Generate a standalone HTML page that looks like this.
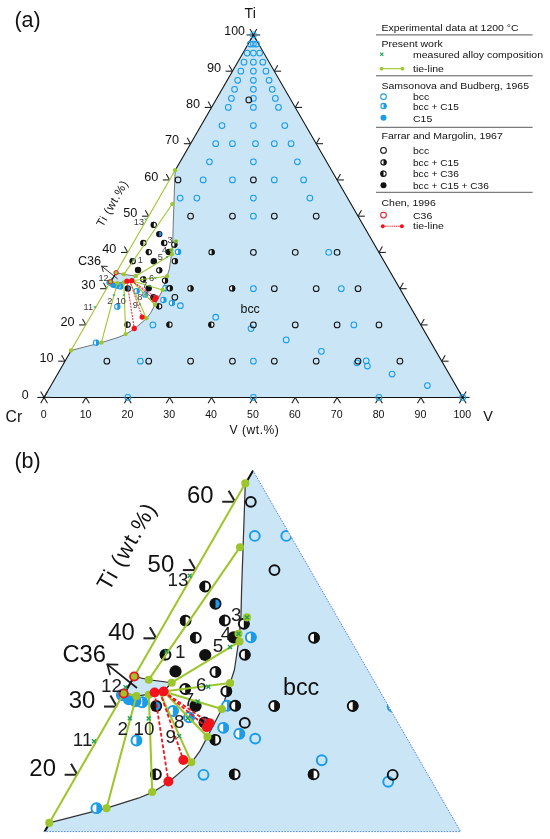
<!DOCTYPE html><html><head><meta charset="utf-8"><title>Ti-Cr-V 1200C</title><style>html,body{margin:0;padding:0;background:#fff}svg{display:block}text{font-family:"Liberation Sans",Arial,sans-serif}</style></head><body>
<svg width="550" height="839" viewBox="0 0 550 839">
<rect width="550" height="839" fill="#fff"/>
<clipPath id="cb"><polygon points="0,440 200,440 252.8,470.2 460.6,831.6 0,831.6"/></clipPath>
<g><polygon points="253.38,34.94 175.1,170.15 173.13,226.78 172.76,242.18 171.59,253.86 169.31,269.27 167.03,276.17 162.62,289.98 154.97,304.75 151.04,312.24 146.52,318.51 141.37,322.86 134.15,329.02 125.76,334.28 118.21,337.36 101.38,342.67 70.99,350.48 44.07,397.44 462.7,397.44" fill="#c9e5f6"/>
<polygon points="116.09,272.72 123.84,274.42 136.01,276.01 131.7,280.69 126.82,281.22 123.84,282.23 117.26,283.08 110.51,281.75" fill="#c9e5f6" stroke="#222" stroke-width="0.6" stroke-linejoin="round"/>
<path d="M175.1 170.15 L173.13 226.78 L172.76 242.18 L171.59 253.86 L169.31 269.27 L167.03 276.17 L162.62 289.98 L154.97 304.75 L151.04 312.24 L146.52 318.51 L141.37 322.86 L134.15 329.02 L125.76 334.28 L118.21 337.36 L101.38 342.67 L70.99 350.48" fill="none" stroke="#333" stroke-width="0.65" stroke-linejoin="round"/>
<polyline points="44.07,397.44 462.7,397.44 253.38,34.94" fill="none" stroke="#111" stroke-width="1.1"/>
<line x1="253.38" y1="34.94" x2="175.1" y2="170.51" stroke="#111" stroke-width="1.1" />
<line x1="115.66" y1="273.46" x2="110.34" y2="282.67" stroke="#111" stroke-width="1.1" />
<line x1="70.86" y1="351.04" x2="44.07" y2="397.44" stroke="#111" stroke-width="1.1" />
<line x1="249.98" y1="40.83" x2="256.78" y2="29.05" stroke="#222" stroke-width="1.1" />
<line x1="256.78" y1="40.83" x2="249.98" y2="29.05" stroke="#222" stroke-width="1.1" />
<line x1="246.58" y1="34.94" x2="260.19" y2="34.94" stroke="#222" stroke-width="1.1" />
<circle cx="253.38" cy="34.94" r="1" fill="#111"/>
<line x1="40.67" y1="403.33" x2="47.47" y2="391.55" stroke="#222" stroke-width="1.1" />
<line x1="47.47" y1="403.33" x2="40.67" y2="391.55" stroke="#222" stroke-width="1.1" />
<line x1="37.27" y1="397.44" x2="50.87" y2="397.44" stroke="#222" stroke-width="1.1" />
<circle cx="44.07" cy="397.44" r="1" fill="#111"/>
<line x1="459.3" y1="403.33" x2="466.1" y2="391.55" stroke="#222" stroke-width="1.1" />
<line x1="466.1" y1="403.33" x2="459.3" y2="391.55" stroke="#222" stroke-width="1.1" />
<line x1="455.9" y1="397.44" x2="469.5" y2="397.44" stroke="#222" stroke-width="1.1" />
<circle cx="462.7" cy="397.44" r="1" fill="#111"/>
<line x1="82.53" y1="403.33" x2="85.93" y2="397.44" stroke="#222" stroke-width="1.1" />
<line x1="89.33" y1="403.33" x2="85.93" y2="397.44" stroke="#222" stroke-width="1.1" />
<line x1="58.2" y1="361.19" x2="65" y2="361.19" stroke="#222" stroke-width="1.1" />
<line x1="65" y1="361.19" x2="61.6" y2="355.3" stroke="#222" stroke-width="1.1" />
<line x1="441.77" y1="361.19" x2="448.57" y2="361.19" stroke="#222" stroke-width="1.1" />
<line x1="441.77" y1="361.19" x2="445.17" y2="355.3" stroke="#222" stroke-width="1.1" />
<line x1="124.4" y1="403.33" x2="127.8" y2="397.44" stroke="#222" stroke-width="1.1" />
<line x1="131.2" y1="403.33" x2="127.8" y2="397.44" stroke="#222" stroke-width="1.1" />
<line x1="79.13" y1="324.94" x2="85.93" y2="324.94" stroke="#222" stroke-width="1.1" />
<line x1="85.93" y1="324.94" x2="82.53" y2="319.05" stroke="#222" stroke-width="1.1" />
<line x1="420.84" y1="324.94" x2="427.64" y2="324.94" stroke="#222" stroke-width="1.1" />
<line x1="420.84" y1="324.94" x2="424.24" y2="319.05" stroke="#222" stroke-width="1.1" />
<line x1="166.26" y1="403.33" x2="169.66" y2="397.44" stroke="#222" stroke-width="1.1" />
<line x1="173.06" y1="403.33" x2="169.66" y2="397.44" stroke="#222" stroke-width="1.1" />
<line x1="100.06" y1="288.69" x2="106.86" y2="288.69" stroke="#222" stroke-width="1.1" />
<line x1="106.86" y1="288.69" x2="103.46" y2="282.8" stroke="#222" stroke-width="1.1" />
<line x1="399.91" y1="288.69" x2="406.71" y2="288.69" stroke="#222" stroke-width="1.1" />
<line x1="399.91" y1="288.69" x2="403.31" y2="282.8" stroke="#222" stroke-width="1.1" />
<line x1="208.12" y1="403.33" x2="211.52" y2="397.44" stroke="#222" stroke-width="1.1" />
<line x1="214.92" y1="403.33" x2="211.52" y2="397.44" stroke="#222" stroke-width="1.1" />
<line x1="121" y1="252.44" x2="127.8" y2="252.44" stroke="#222" stroke-width="1.1" />
<line x1="127.8" y1="252.44" x2="124.4" y2="246.55" stroke="#222" stroke-width="1.1" />
<line x1="378.97" y1="252.44" x2="385.77" y2="252.44" stroke="#222" stroke-width="1.1" />
<line x1="378.97" y1="252.44" x2="382.37" y2="246.55" stroke="#222" stroke-width="1.1" />
<line x1="249.98" y1="403.33" x2="253.38" y2="397.44" stroke="#222" stroke-width="1.1" />
<line x1="256.78" y1="403.33" x2="253.38" y2="397.44" stroke="#222" stroke-width="1.1" />
<line x1="141.93" y1="216.19" x2="148.73" y2="216.19" stroke="#222" stroke-width="1.1" />
<line x1="148.73" y1="216.19" x2="145.33" y2="210.3" stroke="#222" stroke-width="1.1" />
<line x1="358.04" y1="216.19" x2="364.84" y2="216.19" stroke="#222" stroke-width="1.1" />
<line x1="358.04" y1="216.19" x2="361.44" y2="210.3" stroke="#222" stroke-width="1.1" />
<line x1="291.85" y1="403.33" x2="295.25" y2="397.44" stroke="#222" stroke-width="1.1" />
<line x1="298.65" y1="403.33" x2="295.25" y2="397.44" stroke="#222" stroke-width="1.1" />
<line x1="162.86" y1="179.94" x2="169.66" y2="179.94" stroke="#222" stroke-width="1.1" />
<line x1="169.66" y1="179.94" x2="166.26" y2="174.05" stroke="#222" stroke-width="1.1" />
<line x1="337.11" y1="179.94" x2="343.91" y2="179.94" stroke="#222" stroke-width="1.1" />
<line x1="337.11" y1="179.94" x2="340.51" y2="174.05" stroke="#222" stroke-width="1.1" />
<line x1="333.71" y1="403.33" x2="337.11" y2="397.44" stroke="#222" stroke-width="1.1" />
<line x1="340.51" y1="403.33" x2="337.11" y2="397.44" stroke="#222" stroke-width="1.1" />
<line x1="183.79" y1="143.69" x2="190.59" y2="143.69" stroke="#222" stroke-width="1.1" />
<line x1="190.59" y1="143.69" x2="187.19" y2="137.8" stroke="#222" stroke-width="1.1" />
<line x1="316.18" y1="143.69" x2="322.98" y2="143.69" stroke="#222" stroke-width="1.1" />
<line x1="316.18" y1="143.69" x2="319.58" y2="137.8" stroke="#222" stroke-width="1.1" />
<line x1="375.57" y1="403.33" x2="378.97" y2="397.44" stroke="#222" stroke-width="1.1" />
<line x1="382.37" y1="403.33" x2="378.97" y2="397.44" stroke="#222" stroke-width="1.1" />
<line x1="204.72" y1="107.44" x2="211.52" y2="107.44" stroke="#222" stroke-width="1.1" />
<line x1="211.52" y1="107.44" x2="208.12" y2="101.55" stroke="#222" stroke-width="1.1" />
<line x1="295.25" y1="107.44" x2="302.05" y2="107.44" stroke="#222" stroke-width="1.1" />
<line x1="295.25" y1="107.44" x2="298.65" y2="101.55" stroke="#222" stroke-width="1.1" />
<line x1="417.44" y1="403.33" x2="420.84" y2="397.44" stroke="#222" stroke-width="1.1" />
<line x1="424.24" y1="403.33" x2="420.84" y2="397.44" stroke="#222" stroke-width="1.1" />
<line x1="225.65" y1="71.19" x2="232.45" y2="71.19" stroke="#222" stroke-width="1.1" />
<line x1="232.45" y1="71.19" x2="229.05" y2="65.3" stroke="#222" stroke-width="1.1" />
<line x1="274.32" y1="71.19" x2="281.12" y2="71.19" stroke="#222" stroke-width="1.1" />
<line x1="274.32" y1="71.19" x2="277.72" y2="65.3" stroke="#222" stroke-width="1.1" />
<circle cx="253.38" cy="34.94" r="2.85" fill="none" stroke="#1b9be8" stroke-width="1.05"/>
<circle cx="250.25" cy="44" r="2.85" fill="none" stroke="#1b9be8" stroke-width="1.05"/>
<circle cx="253.38" cy="44" r="2.85" fill="none" stroke="#1b9be8" stroke-width="1.05"/>
<circle cx="256.52" cy="44" r="2.85" fill="none" stroke="#1b9be8" stroke-width="1.05"/>
<circle cx="247.11" cy="53.06" r="2.85" fill="none" stroke="#1b9be8" stroke-width="1.05"/>
<circle cx="253.38" cy="53.06" r="2.85" fill="none" stroke="#1b9be8" stroke-width="1.05"/>
<circle cx="259.66" cy="53.06" r="2.85" fill="none" stroke="#1b9be8" stroke-width="1.05"/>
<circle cx="243.97" cy="62.13" r="2.85" fill="none" stroke="#1b9be8" stroke-width="1.05"/>
<circle cx="253.38" cy="62.13" r="2.85" fill="none" stroke="#1b9be8" stroke-width="1.05"/>
<circle cx="262.8" cy="62.13" r="2.85" fill="none" stroke="#1b9be8" stroke-width="1.05"/>
<circle cx="240.83" cy="71.19" r="2.85" fill="none" stroke="#1b9be8" stroke-width="1.05"/>
<circle cx="253.38" cy="71.19" r="2.85" fill="none" stroke="#1b9be8" stroke-width="1.05"/>
<circle cx="265.94" cy="71.19" r="2.85" fill="none" stroke="#1b9be8" stroke-width="1.05"/>
<circle cx="237.69" cy="80.25" r="2.85" fill="none" stroke="#1b9be8" stroke-width="1.05"/>
<circle cx="253.38" cy="80.25" r="2.85" fill="none" stroke="#1b9be8" stroke-width="1.05"/>
<circle cx="269.08" cy="80.25" r="2.85" fill="none" stroke="#1b9be8" stroke-width="1.05"/>
<circle cx="234.55" cy="89.31" r="2.85" fill="none" stroke="#1b9be8" stroke-width="1.05"/>
<circle cx="253.38" cy="89.31" r="2.85" fill="none" stroke="#1b9be8" stroke-width="1.05"/>
<circle cx="272.22" cy="89.31" r="2.85" fill="none" stroke="#1b9be8" stroke-width="1.05"/>
<circle cx="231.41" cy="98.38" r="2.85" fill="none" stroke="#1b9be8" stroke-width="1.05"/>
<circle cx="253.38" cy="98.38" r="2.85" fill="none" stroke="#1b9be8" stroke-width="1.05"/>
<circle cx="275.36" cy="98.38" r="2.85" fill="none" stroke="#1b9be8" stroke-width="1.05"/>
<circle cx="228.27" cy="107.44" r="2.85" fill="none" stroke="#1b9be8" stroke-width="1.05"/>
<circle cx="253.38" cy="107.44" r="2.85" fill="none" stroke="#1b9be8" stroke-width="1.05"/>
<circle cx="278.5" cy="107.44" r="2.85" fill="none" stroke="#1b9be8" stroke-width="1.05"/>
<circle cx="221.99" cy="125.56" r="2.85" fill="none" stroke="#1b9be8" stroke-width="1.05"/>
<circle cx="253.38" cy="125.56" r="2.85" fill="none" stroke="#1b9be8" stroke-width="1.05"/>
<circle cx="284.78" cy="125.56" r="2.85" fill="none" stroke="#1b9be8" stroke-width="1.05"/>
<circle cx="215.71" cy="143.69" r="2.85" fill="none" stroke="#1b9be8" stroke-width="1.05"/>
<circle cx="232.45" cy="143.69" r="2.85" fill="none" stroke="#1b9be8" stroke-width="1.05"/>
<circle cx="255.48" cy="143.69" r="2.85" fill="none" stroke="#1b9be8" stroke-width="1.05"/>
<circle cx="274.32" cy="143.69" r="2.85" fill="none" stroke="#1b9be8" stroke-width="1.05"/>
<circle cx="291.06" cy="143.69" r="2.85" fill="none" stroke="#1b9be8" stroke-width="1.05"/>
<circle cx="209.43" cy="161.81" r="2.85" fill="none" stroke="#1b9be8" stroke-width="1.05"/>
<circle cx="253.38" cy="161.81" r="2.85" fill="none" stroke="#1b9be8" stroke-width="1.05"/>
<circle cx="297.34" cy="161.81" r="2.85" fill="none" stroke="#1b9be8" stroke-width="1.05"/>
<circle cx="203.15" cy="179.94" r="2.85" fill="none" stroke="#1b9be8" stroke-width="1.05"/>
<circle cx="232.45" cy="179.94" r="2.85" fill="none" stroke="#1b9be8" stroke-width="1.05"/>
<circle cx="274.32" cy="179.94" r="2.85" fill="none" stroke="#1b9be8" stroke-width="1.05"/>
<circle cx="303.62" cy="179.94" r="2.85" fill="none" stroke="#1b9be8" stroke-width="1.05"/>
<circle cx="180.12" cy="198.06" r="2.85" fill="none" stroke="#1b9be8" stroke-width="1.05"/>
<circle cx="196.87" cy="198.06" r="2.85" fill="none" stroke="#1b9be8" stroke-width="1.05"/>
<circle cx="253.38" cy="198.06" r="2.85" fill="none" stroke="#1b9be8" stroke-width="1.05"/>
<circle cx="309.9" cy="198.06" r="2.85" fill="none" stroke="#1b9be8" stroke-width="1.05"/>
<circle cx="253.38" cy="216.19" r="2.85" fill="none" stroke="#1b9be8" stroke-width="1.05"/>
<circle cx="328.74" cy="252.44" r="2.85" fill="none" stroke="#1b9be8" stroke-width="1.05"/>
<circle cx="253.38" cy="288.69" r="2.85" fill="none" stroke="#1b9be8" stroke-width="1.05"/>
<circle cx="341.3" cy="288.69" r="2.85" fill="none" stroke="#1b9be8" stroke-width="1.05"/>
<circle cx="353.86" cy="324.94" r="2.85" fill="none" stroke="#1b9be8" stroke-width="1.05"/>
<circle cx="140.35" cy="361.19" r="2.85" fill="none" stroke="#1b9be8" stroke-width="1.05"/>
<circle cx="253.38" cy="361.19" r="2.85" fill="none" stroke="#1b9be8" stroke-width="1.05"/>
<circle cx="127.8" cy="397.44" r="2.85" fill="none" stroke="#1b9be8" stroke-width="1.05"/>
<circle cx="253.38" cy="397.44" r="2.85" fill="none" stroke="#1b9be8" stroke-width="1.05"/>
<circle cx="378.97" cy="397.44" r="2.85" fill="none" stroke="#1b9be8" stroke-width="1.05"/>
<circle cx="462.7" cy="397.44" r="2.85" fill="none" stroke="#1b9be8" stroke-width="1.05"/>
<circle cx="152.91" cy="324.94" r="2.85" fill="none" stroke="#1b9be8" stroke-width="1.05"/>
<circle cx="215.7" cy="317.2" r="2.85" fill="none" stroke="#1b9be8" stroke-width="1.05"/>
<circle cx="251" cy="328.6" r="2.85" fill="none" stroke="#1b9be8" stroke-width="1.05"/>
<circle cx="286.2" cy="339.9" r="2.85" fill="none" stroke="#1b9be8" stroke-width="1.05"/>
<circle cx="321.4" cy="351.3" r="2.85" fill="none" stroke="#1b9be8" stroke-width="1.05"/>
<circle cx="356.9" cy="362.8" r="2.85" fill="none" stroke="#1b9be8" stroke-width="1.05"/>
<circle cx="366.2" cy="360.8" r="2.85" fill="none" stroke="#1b9be8" stroke-width="1.05"/>
<circle cx="367.4" cy="366" r="2.85" fill="none" stroke="#1b9be8" stroke-width="1.05"/>
<circle cx="392.1" cy="374" r="2.85" fill="none" stroke="#1b9be8" stroke-width="1.05"/>
<circle cx="427.4" cy="385.5" r="2.85" fill="none" stroke="#1b9be8" stroke-width="1.05"/>
<circle cx="180.36" cy="305.7" r="2.85" fill="none" stroke="#1b9be8" stroke-width="1.05"/>
<circle cx="178.03" cy="179.94" r="2.85" fill="none" stroke="#111" stroke-width="1.05"/>
<circle cx="253.38" cy="179.94" r="2.85" fill="none" stroke="#111" stroke-width="1.05"/>
<circle cx="190.59" cy="216.19" r="2.85" fill="none" stroke="#111" stroke-width="1.05"/>
<circle cx="232.45" cy="216.19" r="2.85" fill="none" stroke="#111" stroke-width="1.05"/>
<circle cx="274.32" cy="216.19" r="2.85" fill="none" stroke="#111" stroke-width="1.05"/>
<circle cx="316.18" cy="216.19" r="2.85" fill="none" stroke="#111" stroke-width="1.05"/>
<circle cx="253.38" cy="252.44" r="2.85" fill="none" stroke="#111" stroke-width="1.05"/>
<circle cx="295.25" cy="252.44" r="2.85" fill="none" stroke="#111" stroke-width="1.05"/>
<circle cx="337.11" cy="252.44" r="2.85" fill="none" stroke="#111" stroke-width="1.05"/>
<circle cx="274.32" cy="288.69" r="2.85" fill="none" stroke="#111" stroke-width="1.05"/>
<circle cx="316.18" cy="288.69" r="2.85" fill="none" stroke="#111" stroke-width="1.05"/>
<circle cx="358.04" cy="288.69" r="2.85" fill="none" stroke="#111" stroke-width="1.05"/>
<circle cx="253.38" cy="324.94" r="2.85" fill="none" stroke="#111" stroke-width="1.05"/>
<circle cx="295.25" cy="324.94" r="2.85" fill="none" stroke="#111" stroke-width="1.05"/>
<circle cx="337.11" cy="324.94" r="2.85" fill="none" stroke="#111" stroke-width="1.05"/>
<circle cx="378.97" cy="324.94" r="2.85" fill="none" stroke="#111" stroke-width="1.05"/>
<circle cx="106.86" cy="361.19" r="2.85" fill="none" stroke="#111" stroke-width="1.05"/>
<circle cx="148.73" cy="361.19" r="2.85" fill="none" stroke="#111" stroke-width="1.05"/>
<circle cx="190.59" cy="361.19" r="2.85" fill="none" stroke="#111" stroke-width="1.05"/>
<circle cx="232.45" cy="361.19" r="2.85" fill="none" stroke="#111" stroke-width="1.05"/>
<circle cx="274.32" cy="361.19" r="2.85" fill="none" stroke="#111" stroke-width="1.05"/>
<circle cx="316.18" cy="361.19" r="2.85" fill="none" stroke="#111" stroke-width="1.05"/>
<circle cx="358.04" cy="361.19" r="2.85" fill="none" stroke="#111" stroke-width="1.05"/>
<circle cx="399.91" cy="361.19" r="2.85" fill="none" stroke="#111" stroke-width="1.05"/>
<circle cx="174.83" cy="297.37" r="2.85" fill="none" stroke="#111" stroke-width="1.05"/>
<circle cx="248.8" cy="99.9" r="2.85" fill="none" stroke="#111" stroke-width="1.05"/>
<circle cx="178.02" cy="251.9" r="2.64" fill="#fff" stroke="#1b9be8" stroke-width="1.05"/><path d="M178.02 248.83A3.06 3.06 0 0 1 178.02 254.96Z" fill="#1b9be8"/>
<circle cx="120.34" cy="286.42" r="2.64" fill="#fff" stroke="#1b9be8" stroke-width="1.05"/><path d="M120.34 283.36A3.06 3.06 0 0 1 120.34 289.49Z" fill="#1b9be8"/>
<circle cx="136.64" cy="291.04" r="2.64" fill="#fff" stroke="#1b9be8" stroke-width="1.05"/><path d="M136.64 287.98A3.06 3.06 0 0 1 136.64 294.11Z" fill="#1b9be8"/>
<circle cx="145.2" cy="294.39" r="2.64" fill="#fff" stroke="#1b9be8" stroke-width="1.05"/><path d="M145.2 291.33A3.06 3.06 0 0 1 145.2 297.46Z" fill="#1b9be8"/>
<circle cx="165.38" cy="288.23" r="2.64" fill="#fff" stroke="#1b9be8" stroke-width="1.05"/><path d="M165.38 285.16A3.06 3.06 0 0 1 165.38 291.29Z" fill="#1b9be8"/>
<circle cx="163.36" cy="299.97" r="2.64" fill="#fff" stroke="#1b9be8" stroke-width="1.05"/><path d="M163.36 296.9A3.06 3.06 0 0 1 163.36 303.03Z" fill="#1b9be8"/>
<circle cx="171.91" cy="303.1" r="2.64" fill="#fff" stroke="#1b9be8" stroke-width="1.05"/><path d="M171.91 300.04A3.06 3.06 0 0 1 171.91 306.17Z" fill="#1b9be8"/>
<circle cx="117.26" cy="306.71" r="2.64" fill="#fff" stroke="#1b9be8" stroke-width="1.05"/><path d="M117.26 303.65A3.06 3.06 0 0 1 117.26 309.78Z" fill="#1b9be8"/>
<circle cx="96.01" cy="342.67" r="2.64" fill="#fff" stroke="#1b9be8" stroke-width="1.05"/><path d="M96.01 339.61A3.06 3.06 0 0 1 96.01 345.74Z" fill="#1b9be8"/>
<circle cx="109.5" cy="282.55" r="3.15" fill="#1b9be8"/>
<circle cx="113.22" cy="284.78" r="3.15" fill="#1b9be8"/>
<circle cx="116.78" cy="285.84" r="3.15" fill="#1b9be8"/>
<circle cx="153.8" cy="224.92" r="2.64" fill="#fff" stroke="#111" stroke-width="1.05"/><path d="M153.8 221.85A3.06 3.06 0 0 0 153.8 227.98Z" fill="#111"/>
<circle cx="143.39" cy="243.03" r="2.64" fill="#fff" stroke="#111" stroke-width="1.05"/><path d="M143.39 239.96A3.06 3.06 0 0 0 143.39 246.09Z" fill="#111"/>
<circle cx="164.26" cy="242.98" r="2.64" fill="#fff" stroke="#111" stroke-width="1.05"/><path d="M164.26 239.91A3.06 3.06 0 0 0 164.26 246.04Z" fill="#111"/>
<circle cx="148.81" cy="252.11" r="2.64" fill="#fff" stroke="#111" stroke-width="1.05"/><path d="M148.81 249.05A3.06 3.06 0 0 0 148.81 255.18Z" fill="#111"/>
<circle cx="132.71" cy="261.14" r="2.64" fill="#fff" stroke="#111" stroke-width="1.05"/><path d="M132.71 258.08A3.06 3.06 0 0 0 132.71 264.21Z" fill="#111"/>
<circle cx="159.17" cy="306.34" r="2.64" fill="#fff" stroke="#111" stroke-width="1.05"/><path d="M159.17 303.28A3.06 3.06 0 0 0 159.17 309.41Z" fill="#111"/>
<circle cx="127.61" cy="324.67" r="2.64" fill="#fff" stroke="#111" stroke-width="1.05"/><path d="M127.61 321.6A3.06 3.06 0 0 0 127.61 327.73Z" fill="#111"/>
<circle cx="169.47" cy="324.67" r="2.64" fill="#fff" stroke="#111" stroke-width="1.05"/><path d="M169.47 321.6A3.06 3.06 0 0 0 169.47 327.73Z" fill="#111"/>
<circle cx="211.38" cy="324.72" r="2.64" fill="#fff" stroke="#111" stroke-width="1.05"/><path d="M211.38 321.65A3.06 3.06 0 0 0 211.38 327.78Z" fill="#111"/>
<circle cx="174.3" cy="244.68" r="2.64" fill="#fff" stroke="#111" stroke-width="1.05"/><path d="M174.3 241.61A3.06 3.06 0 0 1 174.3 247.74Z" fill="#111"/>
<circle cx="174.83" cy="261.19" r="2.64" fill="#fff" stroke="#111" stroke-width="1.05"/><path d="M174.83 258.13A3.06 3.06 0 0 1 174.83 264.26Z" fill="#111"/>
<circle cx="159.22" cy="270.33" r="2.64" fill="#fff" stroke="#111" stroke-width="1.05"/><path d="M159.22 267.26A3.06 3.06 0 0 1 159.22 273.39Z" fill="#111"/>
<circle cx="143.18" cy="279.36" r="2.64" fill="#fff" stroke="#111" stroke-width="1.05"/><path d="M143.18 276.29A3.06 3.06 0 0 1 143.18 282.42Z" fill="#111"/>
<circle cx="165.01" cy="280.58" r="2.64" fill="#fff" stroke="#111" stroke-width="1.05"/><path d="M165.01 277.52A3.06 3.06 0 0 1 165.01 283.65Z" fill="#111"/>
<circle cx="169.73" cy="288.28" r="2.64" fill="#fff" stroke="#111" stroke-width="1.05"/><path d="M169.73 285.22A3.06 3.06 0 0 1 169.73 291.35Z" fill="#111"/>
<circle cx="190.45" cy="288.39" r="2.64" fill="#fff" stroke="#111" stroke-width="1.05"/><path d="M190.45 285.32A3.06 3.06 0 0 1 190.45 291.45Z" fill="#111"/>
<circle cx="232.15" cy="288.39" r="2.64" fill="#fff" stroke="#111" stroke-width="1.05"/><path d="M232.15 285.32A3.06 3.06 0 0 1 232.15 291.45Z" fill="#111"/>
<circle cx="211.59" cy="252.16" r="2.64" fill="#fff" stroke="#111" stroke-width="1.05"/><path d="M211.59 249.1A3.06 3.06 0 0 1 211.59 255.23Z" fill="#111"/>
<circle cx="168.89" cy="251.9" r="3.25" fill="#111"/>
<circle cx="153.8" cy="261.3" r="3.25" fill="#111"/>
<circle cx="138.03" cy="270.06" r="3.25" fill="#111"/>
<circle cx="148.65" cy="288.34" r="3.25" fill="#111"/>
<circle cx="159.27" cy="234.11" r="3.2" fill="#111"/>
<path d="M159.27 231.81A2.3 2.3 0 0 1 159.27 236.41Z" fill="#1b9be8"/>
<circle cx="127.77" cy="288.39" r="3.2" fill="#111"/>
<path d="M127.77 286.09A2.3 2.3 0 0 1 127.77 290.69Z" fill="#1b9be8"/>
<circle cx="153.43" cy="297.15" r="3.2" fill="#111"/>
<path d="M153.43 294.85A2.3 2.3 0 0 1 153.43 299.45Z" fill="#1b9be8"/>
<line x1="175.1" y1="170.15" x2="116.09" y2="272.72" stroke="#9cc62b" stroke-width="1.08" stroke-linecap="round"/>
<line x1="110.51" y1="281.75" x2="70.99" y2="350.48" stroke="#9cc62b" stroke-width="1.08" stroke-linecap="round"/>
<line x1="172.28" y1="204.04" x2="123.84" y2="274.42" stroke="#9cc62b" stroke-width="1.08" stroke-linecap="round"/>
<line x1="172.02" y1="254.18" x2="136.01" y2="276.01" stroke="#9cc62b" stroke-width="1.08" stroke-linecap="round"/>
<line x1="167.03" y1="276.17" x2="131.7" y2="280.69" stroke="#9cc62b" stroke-width="1.08" stroke-linecap="round"/>
<line x1="162.62" y1="289.98" x2="131.7" y2="280.69" stroke="#9cc62b" stroke-width="1.08" stroke-linecap="round"/>
<line x1="154.97" y1="304.75" x2="131.7" y2="280.69" stroke="#9cc62b" stroke-width="1.08" stroke-linecap="round"/>
<line x1="146.42" y1="318.24" x2="129.53" y2="280.85" stroke="#9cc62b" stroke-width="1.08" stroke-linecap="round"/>
<line x1="123.84" y1="282.23" x2="125.65" y2="334.07" stroke="#9cc62b" stroke-width="1.08" stroke-linecap="round"/>
<line x1="117.26" y1="283.08" x2="101.38" y2="342.67" stroke="#9cc62b" stroke-width="1.08" stroke-linecap="round"/>
<line x1="110.51" y1="281.75" x2="117.26" y2="283.08" stroke="#9cc62b" stroke-width="1.08" stroke-linecap="round"/>
<line x1="171.49" y1="250.04" x2="172.02" y2="254.18" stroke="#9cc62b" stroke-width="1.08" stroke-linecap="round"/>
<circle cx="175.1" cy="170.15" r="2.15" fill="#9cc62b"/>
<circle cx="172.28" cy="204.04" r="2.15" fill="#9cc62b"/>
<circle cx="176" cy="241.33" r="2.15" fill="#9cc62b"/>
<circle cx="171.49" cy="250.04" r="2.15" fill="#9cc62b"/>
<circle cx="172.02" cy="254.18" r="2.15" fill="#9cc62b"/>
<circle cx="167.03" cy="276.17" r="2.15" fill="#9cc62b"/>
<circle cx="162.62" cy="289.98" r="2.15" fill="#9cc62b"/>
<circle cx="154.97" cy="304.75" r="2.15" fill="#9cc62b"/>
<circle cx="146.42" cy="318.24" r="2.15" fill="#9cc62b"/>
<circle cx="125.65" cy="334.07" r="2.15" fill="#9cc62b"/>
<circle cx="101.38" cy="342.67" r="2.15" fill="#9cc62b"/>
<circle cx="70.99" cy="350.48" r="2.15" fill="#9cc62b"/>
<circle cx="116.09" cy="272.72" r="2.15" fill="#9cc62b"/>
<circle cx="110.51" cy="281.75" r="2.15" fill="#9cc62b"/>
<circle cx="123.84" cy="274.42" r="2.15" fill="#9cc62b"/>
<circle cx="136.01" cy="276.01" r="2.15" fill="#9cc62b"/>
<circle cx="117.26" cy="283.08" r="2.15" fill="#9cc62b"/>
<circle cx="123.84" cy="282.44" r="2.15" fill="#9cc62b"/>
<line x1="126.92" y1="281.22" x2="134.25" y2="328.49" stroke="#f3131d" stroke-width="0.95" stroke-dasharray="2 1.1"/>
<line x1="129.79" y1="280.85" x2="142.17" y2="317.07" stroke="#f3131d" stroke-width="0.95" stroke-dasharray="2 1.1"/>
<line x1="131.7" y1="280.69" x2="156.19" y2="297.58" stroke="#f3131d" stroke-width="0.95" stroke-dasharray="2 1.1"/>
<line x1="131.7" y1="280.69" x2="154.65" y2="299.7" stroke="#f3131d" stroke-width="0.95" stroke-dasharray="2 1.1"/>
<circle cx="126.92" cy="281.22" r="2.65" fill="#f3131d"/>
<circle cx="131.7" cy="280.69" r="2.65" fill="#f3131d"/>
<circle cx="156.19" cy="297.58" r="2.65" fill="#f3131d"/>
<circle cx="154.65" cy="299.7" r="2.65" fill="#f3131d"/>
<circle cx="142.17" cy="317.07" r="2.65" fill="#f3131d"/>
<circle cx="134.25" cy="328.49" r="2.65" fill="#f3131d"/>
<circle cx="116.09" cy="272.72" r="2.2" fill="none" stroke="#f3131d" stroke-width="1.0"/>
<circle cx="110.51" cy="281.75" r="2.2" fill="none" stroke="#f3131d" stroke-width="1.0"/>
<path d="M144.52 218.18L146.62 220.28M144.52 220.28L146.62 218.18" stroke="#1f9d55" stroke-width="0.7" fill="none"/>
<path d="M132.19 258.39L134.29 260.49M132.19 260.49L134.29 258.39" stroke="#1f9d55" stroke-width="0.7" fill="none"/>
<path d="M174.95 240.28L177.05 242.38M174.95 242.38L177.05 240.28" stroke="#1f9d55" stroke-width="0.7" fill="none"/>
<path d="M170.44 248.99L172.54 251.09M170.44 251.09L172.54 248.99" stroke="#1f9d55" stroke-width="0.7" fill="none"/>
<path d="M165.92 256L168.02 258.1M165.92 258.1L168.02 256" stroke="#1f9d55" stroke-width="0.7" fill="none"/>
<path d="M154.4 277.14L156.5 279.24M154.4 279.24L156.5 277.14" stroke="#1f9d55" stroke-width="0.7" fill="none"/>
<path d="M148.77 284.95L150.87 287.05M148.77 287.05L150.87 284.95" stroke="#1f9d55" stroke-width="0.7" fill="none"/>
<path d="M143.46 293.87L145.56 295.97M143.46 295.97L145.56 293.87" stroke="#1f9d55" stroke-width="0.7" fill="none"/>
<path d="M138.89 303.33L140.99 305.43M138.89 305.43L140.99 303.33" stroke="#1f9d55" stroke-width="0.7" fill="none"/>
<path d="M122.74 293.98L124.84 296.08M122.74 296.08L124.84 293.98" stroke="#1f9d55" stroke-width="0.7" fill="none"/>
<path d="M112.7 293.87L114.8 295.97M112.7 295.97L114.8 293.87" stroke="#1f9d55" stroke-width="0.7" fill="none"/>
<path d="M93.69 306.04L95.79 308.14M93.69 308.14L95.79 306.04" stroke="#1f9d55" stroke-width="0.7" fill="none"/>
<path d="M110.42 277.41L112.52 279.51M110.42 279.51L112.52 277.41" stroke="#1f9d55" stroke-width="0.7" fill="none"/>
<text x="133.85" y="224.65" font-size="9.2" text-anchor="start" fill="#3a3a3a" >13</text>
<text x="167.47" y="243.08" font-size="9.2" text-anchor="start" fill="#3a3a3a" >3</text>
<text x="162.05" y="253.49" font-size="9.2" text-anchor="start" fill="#3a3a3a" >4</text>
<text x="157.8" y="259.6" font-size="9.2" text-anchor="start" fill="#3a3a3a" >5</text>
<text x="137.73" y="262.89" font-size="9.2" text-anchor="start" fill="#3a3a3a" >1</text>
<text x="148.88" y="280.53" font-size="9.2" text-anchor="start" fill="#3a3a3a" >6</text>
<text x="142.35" y="288.23" font-size="9.2" text-anchor="start" fill="#3a3a3a" >7</text>
<text x="137.3" y="300.23" font-size="9.2" text-anchor="start" fill="#3a3a3a" >8</text>
<text x="132.68" y="307.94" font-size="9.2" text-anchor="start" fill="#3a3a3a" >9</text>
<text x="98.42" y="281.01" font-size="9.2" text-anchor="start" fill="#3a3a3a" >12</text>
<text x="107.18" y="303.85" font-size="9.2" text-anchor="start" fill="#3a3a3a" >2</text>
<text x="115.68" y="303.85" font-size="9.2" text-anchor="start" fill="#3a3a3a" >10</text>
<text x="83.49" y="309.53" font-size="9.2" text-anchor="start" fill="#3a3a3a" >11</text>
<text x="78" y="265.28" font-size="12.6" text-anchor="start" fill="#111" >C36</text>
<line x1="117.58" y1="278.83" x2="101.8" y2="266.24" stroke="#1a1a1a" stroke-width="0.9" />
<line x1="101.8" y1="266.24" x2="103.2" y2="271.56" stroke="#1a1a1a" stroke-width="0.9" stroke-linecap="round"/>
<line x1="101.8" y1="266.24" x2="107.3" y2="266.42" stroke="#1a1a1a" stroke-width="0.9" stroke-linecap="round"/>
<text x="240.5" y="313.2" font-size="12.4" text-anchor="start" fill="#111" >bcc</text>
<text transform="translate(115.6 205.5) rotate(-60)" font-size="11.8" text-anchor="middle" letter-spacing="0.62" fill="#111">Ti (wt.%)</text>
<text x="53.6" y="361.99" font-size="12.7" text-anchor="end" fill="#111" >10</text>
<text x="74.53" y="325.74" font-size="12.7" text-anchor="end" fill="#111" >20</text>
<text x="95.46" y="289.49" font-size="12.7" text-anchor="end" fill="#111" >30</text>
<text x="116.4" y="253.24" font-size="12.7" text-anchor="end" fill="#111" >40</text>
<text x="137.33" y="216.99" font-size="12.7" text-anchor="end" fill="#111" >50</text>
<text x="158.26" y="180.74" font-size="12.7" text-anchor="end" fill="#111" >60</text>
<text x="179.19" y="144.49" font-size="12.7" text-anchor="end" fill="#111" >70</text>
<text x="200.12" y="108.24" font-size="12.7" text-anchor="end" fill="#111" >80</text>
<text x="221.05" y="71.99" font-size="12.7" text-anchor="end" fill="#111" >90</text>
<text x="244.98" y="35.44" font-size="12.4" text-anchor="end" fill="#111" >100</text>
<text x="28.6" y="398.6" font-size="12.4" text-anchor="end" fill="#111" >0</text>
<text x="43.67" y="418.3" font-size="10.6" text-anchor="middle" fill="#111" >0</text>
<text x="85.53" y="418.3" font-size="10.6" text-anchor="middle" fill="#111" >10</text>
<text x="127.4" y="418.3" font-size="10.6" text-anchor="middle" fill="#111" >20</text>
<text x="169.26" y="418.3" font-size="10.6" text-anchor="middle" fill="#111" >30</text>
<text x="211.12" y="418.3" font-size="10.6" text-anchor="middle" fill="#111" >40</text>
<text x="252.98" y="418.3" font-size="10.6" text-anchor="middle" fill="#111" >50</text>
<text x="294.85" y="418.3" font-size="10.6" text-anchor="middle" fill="#111" >60</text>
<text x="336.71" y="418.3" font-size="10.6" text-anchor="middle" fill="#111" >70</text>
<text x="378.57" y="418.3" font-size="10.6" text-anchor="middle" fill="#111" >80</text>
<text x="420.44" y="418.3" font-size="10.6" text-anchor="middle" fill="#111" >90</text>
<text x="462.3" y="418.3" font-size="10.6" text-anchor="middle" fill="#111" >100</text>
<text x="229.6" y="434.4" font-size="12.1" text-anchor="start" fill="#111" letter-spacing="0.5">V (wt.%)</text>
<text x="5.6" y="421.8" font-size="15.7" text-anchor="start" fill="#111" >Cr</text>
<text x="483.3" y="420.9" font-size="14.4" text-anchor="start" fill="#111" >V</text>
<text x="244.6" y="17.5" font-size="14" text-anchor="start" fill="#111" >Ti</text>
<text x="14.4" y="26.6" font-size="21.5" text-anchor="start" fill="#111" >(a)</text>
<text x="14.4" y="468" font-size="21.5" text-anchor="start" fill="#111" >(b)</text>
<line x1="376" y1="34.9" x2="532.6" y2="34.9" stroke="#222" stroke-width="0.75" />
<line x1="376" y1="75.8" x2="532.6" y2="75.8" stroke="#222" stroke-width="0.75" />
<line x1="376" y1="127.3" x2="532.6" y2="127.3" stroke="#222" stroke-width="0.75" />
<line x1="376" y1="192.3" x2="532.6" y2="192.3" stroke="#222" stroke-width="0.75" />
<text transform="translate(381.5 31.1) scale(1.105 1)" font-size="9.5" fill="#111">Experimental data at 1200 °C</text>
<text transform="translate(381.5 47.1) scale(1.105 1)" font-size="9.5" fill="#111">Present work</text>
<text transform="translate(413 58.4) scale(1.105 1)" font-size="9.5" fill="#111">measured alloy composition</text>
<text transform="translate(413 71.6) scale(1.105 1)" font-size="9.5" fill="#111">tie-line</text>
<path d="M380.1 52.7L383.3 55.9M380.1 55.9L383.3 52.7" stroke="#1f9d55" stroke-width="1.05" fill="none"/>
<line x1="381.5" y1="68.7" x2="402.5" y2="68.7" stroke="#9cc62b" stroke-width="1.1" />
<circle cx="381.5" cy="68.7" r="1.9" fill="#9cc62b"/>
<circle cx="402.5" cy="68.7" r="1.9" fill="#9cc62b"/>
<text transform="translate(381.5 88.9) scale(1.105 1)" font-size="9.5" fill="#111">Samsonova and Budberg, 1965</text>
<text transform="translate(413 99.8) scale(1.105 1)" font-size="9.5" fill="#111">bcc</text>
<text transform="translate(413 110.2) scale(1.065 1)" font-size="9.5" fill="#111">bcc + C15</text>
<text transform="translate(413 121.6) scale(1.105 1)" font-size="9.5" fill="#111">C15</text>
<circle cx="383.5" cy="96.7" r="2.85" fill="none" stroke="#1b9be8" stroke-width="1.05"/>
<circle cx="383.5" cy="106" r="2.65" fill="#fff" stroke="#1b9be8" stroke-width="1.05"/><path d="M383.5 102.92A3.07 3.07 0 0 1 383.5 109.08Z" fill="#1b9be8"/>
<circle cx="383.5" cy="117.8" r="3" fill="#1b9be8"/>
<text transform="translate(381.5 139) scale(1.105 1)" font-size="9.5" fill="#111">Farrar and Margolin, 1967</text>
<text transform="translate(413 154.2) scale(1.105 1)" font-size="9.5" fill="#111">bcc</text>
<text transform="translate(413 165.6) scale(1.065 1)" font-size="9.5" fill="#111">bcc + C15</text>
<text transform="translate(413 177) scale(1.065 1)" font-size="9.5" fill="#111">bcc + C36</text>
<text transform="translate(413 188.7) scale(1.065 1)" font-size="9.5" fill="#111">bcc + C15 + C36</text>
<circle cx="383.5" cy="150.4" r="2.85" fill="none" stroke="#111" stroke-width="1.05"/>
<circle cx="383.5" cy="162.3" r="2.65" fill="#fff" stroke="#111" stroke-width="1.05"/><path d="M383.5 159.23A3.07 3.07 0 0 1 383.5 165.38Z" fill="#111"/>
<circle cx="383.5" cy="173.7" r="2.65" fill="#fff" stroke="#111" stroke-width="1.05"/><path d="M383.5 170.62A3.07 3.07 0 0 0 383.5 176.77Z" fill="#111"/>
<circle cx="383.5" cy="185.2" r="3" fill="#111"/>
<text transform="translate(381.5 205.7) scale(1.105 1)" font-size="9.5" fill="#111">Chen, 1996</text>
<text transform="translate(413 218.8) scale(1.105 1)" font-size="9.5" fill="#111">C36</text>
<text transform="translate(413 228.6) scale(1.105 1)" font-size="9.5" fill="#111">tie-line</text>
<circle cx="383.5" cy="215.1" r="2.85" fill="none" stroke="#f3131d" stroke-width="1.05"/>
<line x1="382.8" y1="226.2" x2="401.9" y2="226.2" stroke="#f3131d" stroke-width="1" stroke-dasharray="1.3 0.9"/>
<circle cx="382.8" cy="226.2" r="2" fill="#f3131d"/>
<circle cx="401.9" cy="226.2" r="2" fill="#f3131d"/></g>
<g clip-path="url(#cb)"><g transform="translate(-84.36 163.05) scale(1.8827)"><polygon points="253.38,34.94 175.1,170.15 173.13,226.78 172.76,242.18 171.59,253.86 169.31,269.27 167.03,276.17 162.62,289.98 154.97,304.75 151.04,312.24 146.52,318.51 141.37,322.86 134.15,329.02 125.76,334.28 118.21,337.36 101.38,342.67 70.99,350.48 44.07,397.44 462.7,397.44" fill="#c9e5f6"/>
<polygon points="116.09,272.72 123.84,274.42 136.01,276.01 131.7,280.69 126.82,281.22 123.84,282.23 117.26,283.08 110.51,281.75" fill="#c9e5f6" stroke="#222" stroke-width="0.6" stroke-linejoin="round"/>
<path d="M175.1 170.15 L173.13 226.78 L172.76 242.18 L171.59 253.86 L169.31 269.27 L167.03 276.17 L162.62 289.98 L154.97 304.75 L151.04 312.24 L146.52 318.51 L141.37 322.86 L134.15 329.02 L125.76 334.28 L118.21 337.36 L101.38 342.67 L70.99 350.48" fill="none" stroke="#333" stroke-width="0.65" stroke-linejoin="round"/>
<polyline points="44.07,397.44 462.7,397.44 253.38,34.94" fill="none" stroke="#111" stroke-width="1.1"/>
<line x1="253.38" y1="34.94" x2="175.1" y2="170.51" stroke="#111" stroke-width="1.1" />
<line x1="115.66" y1="273.46" x2="110.34" y2="282.67" stroke="#111" stroke-width="1.1" />
<line x1="70.86" y1="351.04" x2="44.07" y2="397.44" stroke="#111" stroke-width="1.1" />
<line x1="249.98" y1="40.83" x2="256.78" y2="29.05" stroke="#222" stroke-width="1.1" />
<line x1="256.78" y1="40.83" x2="249.98" y2="29.05" stroke="#222" stroke-width="1.1" />
<line x1="246.58" y1="34.94" x2="260.19" y2="34.94" stroke="#222" stroke-width="1.1" />
<circle cx="253.38" cy="34.94" r="1" fill="#111"/>
<line x1="40.67" y1="403.33" x2="47.47" y2="391.55" stroke="#222" stroke-width="1.1" />
<line x1="47.47" y1="403.33" x2="40.67" y2="391.55" stroke="#222" stroke-width="1.1" />
<line x1="37.27" y1="397.44" x2="50.87" y2="397.44" stroke="#222" stroke-width="1.1" />
<circle cx="44.07" cy="397.44" r="1" fill="#111"/>
<line x1="459.3" y1="403.33" x2="466.1" y2="391.55" stroke="#222" stroke-width="1.1" />
<line x1="466.1" y1="403.33" x2="459.3" y2="391.55" stroke="#222" stroke-width="1.1" />
<line x1="455.9" y1="397.44" x2="469.5" y2="397.44" stroke="#222" stroke-width="1.1" />
<circle cx="462.7" cy="397.44" r="1" fill="#111"/>
<line x1="82.53" y1="403.33" x2="85.93" y2="397.44" stroke="#222" stroke-width="1.1" />
<line x1="89.33" y1="403.33" x2="85.93" y2="397.44" stroke="#222" stroke-width="1.1" />
<line x1="441.77" y1="361.19" x2="448.57" y2="361.19" stroke="#222" stroke-width="1.1" />
<line x1="441.77" y1="361.19" x2="445.17" y2="355.3" stroke="#222" stroke-width="1.1" />
<line x1="124.4" y1="403.33" x2="127.8" y2="397.44" stroke="#222" stroke-width="1.1" />
<line x1="131.2" y1="403.33" x2="127.8" y2="397.44" stroke="#222" stroke-width="1.1" />
<line x1="79.13" y1="324.94" x2="85.93" y2="324.94" stroke="#222" stroke-width="1.1" />
<line x1="85.93" y1="324.94" x2="82.53" y2="319.05" stroke="#222" stroke-width="1.1" />
<line x1="420.84" y1="324.94" x2="427.64" y2="324.94" stroke="#222" stroke-width="1.1" />
<line x1="420.84" y1="324.94" x2="424.24" y2="319.05" stroke="#222" stroke-width="1.1" />
<line x1="166.26" y1="403.33" x2="169.66" y2="397.44" stroke="#222" stroke-width="1.1" />
<line x1="173.06" y1="403.33" x2="169.66" y2="397.44" stroke="#222" stroke-width="1.1" />
<line x1="100.06" y1="288.69" x2="106.86" y2="288.69" stroke="#222" stroke-width="1.1" />
<line x1="106.86" y1="288.69" x2="103.46" y2="282.8" stroke="#222" stroke-width="1.1" />
<line x1="399.91" y1="288.69" x2="406.71" y2="288.69" stroke="#222" stroke-width="1.1" />
<line x1="399.91" y1="288.69" x2="403.31" y2="282.8" stroke="#222" stroke-width="1.1" />
<line x1="208.12" y1="403.33" x2="211.52" y2="397.44" stroke="#222" stroke-width="1.1" />
<line x1="214.92" y1="403.33" x2="211.52" y2="397.44" stroke="#222" stroke-width="1.1" />
<line x1="121" y1="252.44" x2="127.8" y2="252.44" stroke="#222" stroke-width="1.1" />
<line x1="127.8" y1="252.44" x2="124.4" y2="246.55" stroke="#222" stroke-width="1.1" />
<line x1="378.97" y1="252.44" x2="385.77" y2="252.44" stroke="#222" stroke-width="1.1" />
<line x1="378.97" y1="252.44" x2="382.37" y2="246.55" stroke="#222" stroke-width="1.1" />
<line x1="249.98" y1="403.33" x2="253.38" y2="397.44" stroke="#222" stroke-width="1.1" />
<line x1="256.78" y1="403.33" x2="253.38" y2="397.44" stroke="#222" stroke-width="1.1" />
<line x1="141.93" y1="216.19" x2="148.73" y2="216.19" stroke="#222" stroke-width="1.1" />
<line x1="148.73" y1="216.19" x2="145.33" y2="210.3" stroke="#222" stroke-width="1.1" />
<line x1="358.04" y1="216.19" x2="364.84" y2="216.19" stroke="#222" stroke-width="1.1" />
<line x1="358.04" y1="216.19" x2="361.44" y2="210.3" stroke="#222" stroke-width="1.1" />
<line x1="291.85" y1="403.33" x2="295.25" y2="397.44" stroke="#222" stroke-width="1.1" />
<line x1="298.65" y1="403.33" x2="295.25" y2="397.44" stroke="#222" stroke-width="1.1" />
<line x1="162.86" y1="179.94" x2="169.66" y2="179.94" stroke="#222" stroke-width="1.1" />
<line x1="169.66" y1="179.94" x2="166.26" y2="174.05" stroke="#222" stroke-width="1.1" />
<line x1="337.11" y1="179.94" x2="343.91" y2="179.94" stroke="#222" stroke-width="1.1" />
<line x1="337.11" y1="179.94" x2="340.51" y2="174.05" stroke="#222" stroke-width="1.1" />
<line x1="333.71" y1="403.33" x2="337.11" y2="397.44" stroke="#222" stroke-width="1.1" />
<line x1="340.51" y1="403.33" x2="337.11" y2="397.44" stroke="#222" stroke-width="1.1" />
<line x1="183.79" y1="143.69" x2="190.59" y2="143.69" stroke="#222" stroke-width="1.1" />
<line x1="190.59" y1="143.69" x2="187.19" y2="137.8" stroke="#222" stroke-width="1.1" />
<line x1="316.18" y1="143.69" x2="322.98" y2="143.69" stroke="#222" stroke-width="1.1" />
<line x1="316.18" y1="143.69" x2="319.58" y2="137.8" stroke="#222" stroke-width="1.1" />
<line x1="375.57" y1="403.33" x2="378.97" y2="397.44" stroke="#222" stroke-width="1.1" />
<line x1="382.37" y1="403.33" x2="378.97" y2="397.44" stroke="#222" stroke-width="1.1" />
<line x1="204.72" y1="107.44" x2="211.52" y2="107.44" stroke="#222" stroke-width="1.1" />
<line x1="211.52" y1="107.44" x2="208.12" y2="101.55" stroke="#222" stroke-width="1.1" />
<line x1="295.25" y1="107.44" x2="302.05" y2="107.44" stroke="#222" stroke-width="1.1" />
<line x1="295.25" y1="107.44" x2="298.65" y2="101.55" stroke="#222" stroke-width="1.1" />
<line x1="417.44" y1="403.33" x2="420.84" y2="397.44" stroke="#222" stroke-width="1.1" />
<line x1="424.24" y1="403.33" x2="420.84" y2="397.44" stroke="#222" stroke-width="1.1" />
<line x1="225.65" y1="71.19" x2="232.45" y2="71.19" stroke="#222" stroke-width="1.1" />
<line x1="232.45" y1="71.19" x2="229.05" y2="65.3" stroke="#222" stroke-width="1.1" />
<line x1="274.32" y1="71.19" x2="281.12" y2="71.19" stroke="#222" stroke-width="1.1" />
<line x1="274.32" y1="71.19" x2="277.72" y2="65.3" stroke="#222" stroke-width="1.1" />
<circle cx="253.38" cy="34.94" r="2.62" fill="none" stroke="#1b9be8" stroke-width="1.05"/>
<circle cx="250.25" cy="44" r="2.62" fill="none" stroke="#1b9be8" stroke-width="1.05"/>
<circle cx="253.38" cy="44" r="2.62" fill="none" stroke="#1b9be8" stroke-width="1.05"/>
<circle cx="256.52" cy="44" r="2.62" fill="none" stroke="#1b9be8" stroke-width="1.05"/>
<circle cx="247.11" cy="53.06" r="2.62" fill="none" stroke="#1b9be8" stroke-width="1.05"/>
<circle cx="253.38" cy="53.06" r="2.62" fill="none" stroke="#1b9be8" stroke-width="1.05"/>
<circle cx="259.66" cy="53.06" r="2.62" fill="none" stroke="#1b9be8" stroke-width="1.05"/>
<circle cx="243.97" cy="62.13" r="2.62" fill="none" stroke="#1b9be8" stroke-width="1.05"/>
<circle cx="253.38" cy="62.13" r="2.62" fill="none" stroke="#1b9be8" stroke-width="1.05"/>
<circle cx="262.8" cy="62.13" r="2.62" fill="none" stroke="#1b9be8" stroke-width="1.05"/>
<circle cx="240.83" cy="71.19" r="2.62" fill="none" stroke="#1b9be8" stroke-width="1.05"/>
<circle cx="253.38" cy="71.19" r="2.62" fill="none" stroke="#1b9be8" stroke-width="1.05"/>
<circle cx="265.94" cy="71.19" r="2.62" fill="none" stroke="#1b9be8" stroke-width="1.05"/>
<circle cx="237.69" cy="80.25" r="2.62" fill="none" stroke="#1b9be8" stroke-width="1.05"/>
<circle cx="253.38" cy="80.25" r="2.62" fill="none" stroke="#1b9be8" stroke-width="1.05"/>
<circle cx="269.08" cy="80.25" r="2.62" fill="none" stroke="#1b9be8" stroke-width="1.05"/>
<circle cx="234.55" cy="89.31" r="2.62" fill="none" stroke="#1b9be8" stroke-width="1.05"/>
<circle cx="253.38" cy="89.31" r="2.62" fill="none" stroke="#1b9be8" stroke-width="1.05"/>
<circle cx="272.22" cy="89.31" r="2.62" fill="none" stroke="#1b9be8" stroke-width="1.05"/>
<circle cx="231.41" cy="98.38" r="2.62" fill="none" stroke="#1b9be8" stroke-width="1.05"/>
<circle cx="253.38" cy="98.38" r="2.62" fill="none" stroke="#1b9be8" stroke-width="1.05"/>
<circle cx="275.36" cy="98.38" r="2.62" fill="none" stroke="#1b9be8" stroke-width="1.05"/>
<circle cx="228.27" cy="107.44" r="2.62" fill="none" stroke="#1b9be8" stroke-width="1.05"/>
<circle cx="253.38" cy="107.44" r="2.62" fill="none" stroke="#1b9be8" stroke-width="1.05"/>
<circle cx="278.5" cy="107.44" r="2.62" fill="none" stroke="#1b9be8" stroke-width="1.05"/>
<circle cx="221.99" cy="125.56" r="2.62" fill="none" stroke="#1b9be8" stroke-width="1.05"/>
<circle cx="253.38" cy="125.56" r="2.62" fill="none" stroke="#1b9be8" stroke-width="1.05"/>
<circle cx="284.78" cy="125.56" r="2.62" fill="none" stroke="#1b9be8" stroke-width="1.05"/>
<circle cx="215.71" cy="143.69" r="2.62" fill="none" stroke="#1b9be8" stroke-width="1.05"/>
<circle cx="232.45" cy="143.69" r="2.62" fill="none" stroke="#1b9be8" stroke-width="1.05"/>
<circle cx="255.48" cy="143.69" r="2.62" fill="none" stroke="#1b9be8" stroke-width="1.05"/>
<circle cx="274.32" cy="143.69" r="2.62" fill="none" stroke="#1b9be8" stroke-width="1.05"/>
<circle cx="291.06" cy="143.69" r="2.62" fill="none" stroke="#1b9be8" stroke-width="1.05"/>
<circle cx="209.43" cy="161.81" r="2.62" fill="none" stroke="#1b9be8" stroke-width="1.05"/>
<circle cx="253.38" cy="161.81" r="2.62" fill="none" stroke="#1b9be8" stroke-width="1.05"/>
<circle cx="297.34" cy="161.81" r="2.62" fill="none" stroke="#1b9be8" stroke-width="1.05"/>
<circle cx="203.15" cy="179.94" r="2.62" fill="none" stroke="#1b9be8" stroke-width="1.05"/>
<circle cx="232.45" cy="179.94" r="2.62" fill="none" stroke="#1b9be8" stroke-width="1.05"/>
<circle cx="274.32" cy="179.94" r="2.62" fill="none" stroke="#1b9be8" stroke-width="1.05"/>
<circle cx="303.62" cy="179.94" r="2.62" fill="none" stroke="#1b9be8" stroke-width="1.05"/>
<circle cx="180.12" cy="198.06" r="2.62" fill="none" stroke="#1b9be8" stroke-width="1.05"/>
<circle cx="196.87" cy="198.06" r="2.62" fill="none" stroke="#1b9be8" stroke-width="1.05"/>
<circle cx="253.38" cy="198.06" r="2.62" fill="none" stroke="#1b9be8" stroke-width="1.05"/>
<circle cx="309.9" cy="198.06" r="2.62" fill="none" stroke="#1b9be8" stroke-width="1.05"/>
<circle cx="253.38" cy="216.19" r="2.62" fill="none" stroke="#1b9be8" stroke-width="1.05"/>
<circle cx="328.74" cy="252.44" r="2.62" fill="none" stroke="#1b9be8" stroke-width="1.05"/>
<circle cx="253.38" cy="288.69" r="2.62" fill="none" stroke="#1b9be8" stroke-width="1.05"/>
<circle cx="341.3" cy="288.69" r="2.62" fill="none" stroke="#1b9be8" stroke-width="1.05"/>
<circle cx="353.86" cy="324.94" r="2.62" fill="none" stroke="#1b9be8" stroke-width="1.05"/>
<circle cx="140.35" cy="361.19" r="2.62" fill="none" stroke="#1b9be8" stroke-width="1.05"/>
<circle cx="253.38" cy="361.19" r="2.62" fill="none" stroke="#1b9be8" stroke-width="1.05"/>
<circle cx="127.8" cy="397.44" r="2.62" fill="none" stroke="#1b9be8" stroke-width="1.05"/>
<circle cx="253.38" cy="397.44" r="2.62" fill="none" stroke="#1b9be8" stroke-width="1.05"/>
<circle cx="378.97" cy="397.44" r="2.62" fill="none" stroke="#1b9be8" stroke-width="1.05"/>
<circle cx="462.7" cy="397.44" r="2.62" fill="none" stroke="#1b9be8" stroke-width="1.05"/>
<circle cx="152.91" cy="324.94" r="2.62" fill="none" stroke="#1b9be8" stroke-width="1.05"/>
<circle cx="215.7" cy="317.2" r="2.62" fill="none" stroke="#1b9be8" stroke-width="1.05"/>
<circle cx="251" cy="328.6" r="2.62" fill="none" stroke="#1b9be8" stroke-width="1.05"/>
<circle cx="286.2" cy="339.9" r="2.62" fill="none" stroke="#1b9be8" stroke-width="1.05"/>
<circle cx="321.4" cy="351.3" r="2.62" fill="none" stroke="#1b9be8" stroke-width="1.05"/>
<circle cx="356.9" cy="362.8" r="2.62" fill="none" stroke="#1b9be8" stroke-width="1.05"/>
<circle cx="366.2" cy="360.8" r="2.62" fill="none" stroke="#1b9be8" stroke-width="1.05"/>
<circle cx="367.4" cy="366" r="2.62" fill="none" stroke="#1b9be8" stroke-width="1.05"/>
<circle cx="392.1" cy="374" r="2.62" fill="none" stroke="#1b9be8" stroke-width="1.05"/>
<circle cx="427.4" cy="385.5" r="2.62" fill="none" stroke="#1b9be8" stroke-width="1.05"/>
<circle cx="180.36" cy="305.7" r="2.62" fill="none" stroke="#1b9be8" stroke-width="1.05"/>
<circle cx="178.03" cy="179.94" r="2.62" fill="none" stroke="#111" stroke-width="1.05"/>
<circle cx="253.38" cy="179.94" r="2.62" fill="none" stroke="#111" stroke-width="1.05"/>
<circle cx="190.59" cy="216.19" r="2.62" fill="none" stroke="#111" stroke-width="1.05"/>
<circle cx="232.45" cy="216.19" r="2.62" fill="none" stroke="#111" stroke-width="1.05"/>
<circle cx="274.32" cy="216.19" r="2.62" fill="none" stroke="#111" stroke-width="1.05"/>
<circle cx="316.18" cy="216.19" r="2.62" fill="none" stroke="#111" stroke-width="1.05"/>
<circle cx="253.38" cy="252.44" r="2.62" fill="none" stroke="#111" stroke-width="1.05"/>
<circle cx="295.25" cy="252.44" r="2.62" fill="none" stroke="#111" stroke-width="1.05"/>
<circle cx="337.11" cy="252.44" r="2.62" fill="none" stroke="#111" stroke-width="1.05"/>
<circle cx="274.32" cy="288.69" r="2.62" fill="none" stroke="#111" stroke-width="1.05"/>
<circle cx="316.18" cy="288.69" r="2.62" fill="none" stroke="#111" stroke-width="1.05"/>
<circle cx="358.04" cy="288.69" r="2.62" fill="none" stroke="#111" stroke-width="1.05"/>
<circle cx="253.38" cy="324.94" r="2.62" fill="none" stroke="#111" stroke-width="1.05"/>
<circle cx="295.25" cy="324.94" r="2.62" fill="none" stroke="#111" stroke-width="1.05"/>
<circle cx="337.11" cy="324.94" r="2.62" fill="none" stroke="#111" stroke-width="1.05"/>
<circle cx="378.97" cy="324.94" r="2.62" fill="none" stroke="#111" stroke-width="1.05"/>
<circle cx="106.86" cy="361.19" r="2.62" fill="none" stroke="#111" stroke-width="1.05"/>
<circle cx="148.73" cy="361.19" r="2.62" fill="none" stroke="#111" stroke-width="1.05"/>
<circle cx="190.59" cy="361.19" r="2.62" fill="none" stroke="#111" stroke-width="1.05"/>
<circle cx="232.45" cy="361.19" r="2.62" fill="none" stroke="#111" stroke-width="1.05"/>
<circle cx="274.32" cy="361.19" r="2.62" fill="none" stroke="#111" stroke-width="1.05"/>
<circle cx="316.18" cy="361.19" r="2.62" fill="none" stroke="#111" stroke-width="1.05"/>
<circle cx="358.04" cy="361.19" r="2.62" fill="none" stroke="#111" stroke-width="1.05"/>
<circle cx="399.91" cy="361.19" r="2.62" fill="none" stroke="#111" stroke-width="1.05"/>
<circle cx="174.83" cy="297.37" r="2.62" fill="none" stroke="#111" stroke-width="1.05"/>
<circle cx="248.8" cy="99.9" r="2.62" fill="none" stroke="#111" stroke-width="1.05"/>
<circle cx="178.02" cy="251.9" r="2.62" fill="#fff" stroke="#1b9be8" stroke-width="1.05"/><path d="M178.02 248.85A3.04 3.04 0 0 1 178.02 254.94Z" fill="#1b9be8"/>
<circle cx="120.34" cy="286.42" r="2.62" fill="#fff" stroke="#1b9be8" stroke-width="1.05"/><path d="M120.34 283.38A3.04 3.04 0 0 1 120.34 289.47Z" fill="#1b9be8"/>
<circle cx="136.64" cy="291.04" r="2.62" fill="#fff" stroke="#1b9be8" stroke-width="1.05"/><path d="M136.64 288A3.04 3.04 0 0 1 136.64 294.09Z" fill="#1b9be8"/>
<circle cx="145.2" cy="294.39" r="2.62" fill="#fff" stroke="#1b9be8" stroke-width="1.05"/><path d="M145.2 291.35A3.04 3.04 0 0 1 145.2 297.44Z" fill="#1b9be8"/>
<circle cx="165.38" cy="288.23" r="2.62" fill="#fff" stroke="#1b9be8" stroke-width="1.05"/><path d="M165.38 285.18A3.04 3.04 0 0 1 165.38 291.27Z" fill="#1b9be8"/>
<circle cx="163.36" cy="299.97" r="2.62" fill="#fff" stroke="#1b9be8" stroke-width="1.05"/><path d="M163.36 296.92A3.04 3.04 0 0 1 163.36 303.01Z" fill="#1b9be8"/>
<circle cx="171.91" cy="303.1" r="2.62" fill="#fff" stroke="#1b9be8" stroke-width="1.05"/><path d="M171.91 300.06A3.04 3.04 0 0 1 171.91 306.15Z" fill="#1b9be8"/>
<circle cx="117.26" cy="306.71" r="2.62" fill="#fff" stroke="#1b9be8" stroke-width="1.05"/><path d="M117.26 303.67A3.04 3.04 0 0 1 117.26 309.76Z" fill="#1b9be8"/>
<circle cx="96.01" cy="342.67" r="2.62" fill="#fff" stroke="#1b9be8" stroke-width="1.05"/><path d="M96.01 339.63A3.04 3.04 0 0 1 96.01 345.72Z" fill="#1b9be8"/>
<circle cx="109.5" cy="282.55" r="3.15" fill="#1b9be8"/>
<circle cx="113.22" cy="284.78" r="3.15" fill="#1b9be8"/>
<circle cx="116.78" cy="285.84" r="3.15" fill="#1b9be8"/>
<circle cx="153.8" cy="224.92" r="2.62" fill="#fff" stroke="#111" stroke-width="1.05"/><path d="M153.8 221.87A3.04 3.04 0 0 0 153.8 227.96Z" fill="#111"/>
<circle cx="143.39" cy="243.03" r="2.62" fill="#fff" stroke="#111" stroke-width="1.05"/><path d="M143.39 239.98A3.04 3.04 0 0 0 143.39 246.07Z" fill="#111"/>
<circle cx="164.26" cy="242.98" r="2.62" fill="#fff" stroke="#111" stroke-width="1.05"/><path d="M164.26 239.93A3.04 3.04 0 0 0 164.26 246.02Z" fill="#111"/>
<circle cx="148.81" cy="252.11" r="2.62" fill="#fff" stroke="#111" stroke-width="1.05"/><path d="M148.81 249.07A3.04 3.04 0 0 0 148.81 255.16Z" fill="#111"/>
<circle cx="132.71" cy="261.14" r="2.62" fill="#fff" stroke="#111" stroke-width="1.05"/><path d="M132.71 258.1A3.04 3.04 0 0 0 132.71 264.19Z" fill="#111"/>
<circle cx="159.17" cy="306.34" r="2.62" fill="#fff" stroke="#111" stroke-width="1.05"/><path d="M159.17 303.3A3.04 3.04 0 0 0 159.17 309.39Z" fill="#111"/>
<circle cx="127.61" cy="324.67" r="2.62" fill="#fff" stroke="#111" stroke-width="1.05"/><path d="M127.61 321.62A3.04 3.04 0 0 0 127.61 327.71Z" fill="#111"/>
<circle cx="169.47" cy="324.67" r="2.62" fill="#fff" stroke="#111" stroke-width="1.05"/><path d="M169.47 321.62A3.04 3.04 0 0 0 169.47 327.71Z" fill="#111"/>
<circle cx="211.38" cy="324.72" r="2.62" fill="#fff" stroke="#111" stroke-width="1.05"/><path d="M211.38 321.67A3.04 3.04 0 0 0 211.38 327.76Z" fill="#111"/>
<circle cx="174.3" cy="244.68" r="2.62" fill="#fff" stroke="#111" stroke-width="1.05"/><path d="M174.3 241.63A3.04 3.04 0 0 1 174.3 247.72Z" fill="#111"/>
<circle cx="174.83" cy="261.19" r="2.62" fill="#fff" stroke="#111" stroke-width="1.05"/><path d="M174.83 258.15A3.04 3.04 0 0 1 174.83 264.24Z" fill="#111"/>
<circle cx="159.22" cy="270.33" r="2.62" fill="#fff" stroke="#111" stroke-width="1.05"/><path d="M159.22 267.28A3.04 3.04 0 0 1 159.22 273.37Z" fill="#111"/>
<circle cx="143.18" cy="279.36" r="2.62" fill="#fff" stroke="#111" stroke-width="1.05"/><path d="M143.18 276.31A3.04 3.04 0 0 1 143.18 282.4Z" fill="#111"/>
<circle cx="165.01" cy="280.58" r="2.62" fill="#fff" stroke="#111" stroke-width="1.05"/><path d="M165.01 277.54A3.04 3.04 0 0 1 165.01 283.63Z" fill="#111"/>
<circle cx="169.73" cy="288.28" r="2.62" fill="#fff" stroke="#111" stroke-width="1.05"/><path d="M169.73 285.24A3.04 3.04 0 0 1 169.73 291.33Z" fill="#111"/>
<circle cx="190.45" cy="288.39" r="2.62" fill="#fff" stroke="#111" stroke-width="1.05"/><path d="M190.45 285.34A3.04 3.04 0 0 1 190.45 291.43Z" fill="#111"/>
<circle cx="232.15" cy="288.39" r="2.62" fill="#fff" stroke="#111" stroke-width="1.05"/><path d="M232.15 285.34A3.04 3.04 0 0 1 232.15 291.43Z" fill="#111"/>
<circle cx="211.59" cy="252.16" r="2.62" fill="#fff" stroke="#111" stroke-width="1.05"/><path d="M211.59 249.12A3.04 3.04 0 0 1 211.59 255.21Z" fill="#111"/>
<circle cx="168.89" cy="251.9" r="3.25" fill="#111"/>
<circle cx="153.8" cy="261.3" r="3.25" fill="#111"/>
<circle cx="138.03" cy="270.06" r="3.25" fill="#111"/>
<circle cx="148.65" cy="288.34" r="3.25" fill="#111"/>
<circle cx="159.27" cy="234.11" r="3.2" fill="#111"/>
<path d="M159.27 231.81A2.3 2.3 0 0 1 159.27 236.41Z" fill="#1b9be8"/>
<circle cx="127.77" cy="288.39" r="3.2" fill="#111"/>
<path d="M127.77 286.09A2.3 2.3 0 0 1 127.77 290.69Z" fill="#1b9be8"/>
<circle cx="153.43" cy="297.15" r="3.2" fill="#111"/>
<path d="M153.43 294.85A2.3 2.3 0 0 1 153.43 299.45Z" fill="#1b9be8"/>
<line x1="175.1" y1="170.15" x2="116.09" y2="272.72" stroke="#9cc62b" stroke-width="1.08" stroke-linecap="round"/>
<line x1="110.51" y1="281.75" x2="70.99" y2="350.48" stroke="#9cc62b" stroke-width="1.08" stroke-linecap="round"/>
<line x1="172.28" y1="204.04" x2="123.84" y2="274.42" stroke="#9cc62b" stroke-width="1.08" stroke-linecap="round"/>
<line x1="172.02" y1="254.18" x2="136.01" y2="276.01" stroke="#9cc62b" stroke-width="1.08" stroke-linecap="round"/>
<line x1="167.03" y1="276.17" x2="131.7" y2="280.69" stroke="#9cc62b" stroke-width="1.08" stroke-linecap="round"/>
<line x1="162.62" y1="289.98" x2="131.7" y2="280.69" stroke="#9cc62b" stroke-width="1.08" stroke-linecap="round"/>
<line x1="154.97" y1="304.75" x2="131.7" y2="280.69" stroke="#9cc62b" stroke-width="1.08" stroke-linecap="round"/>
<line x1="146.42" y1="318.24" x2="129.53" y2="280.85" stroke="#9cc62b" stroke-width="1.08" stroke-linecap="round"/>
<line x1="123.84" y1="282.23" x2="125.65" y2="334.07" stroke="#9cc62b" stroke-width="1.08" stroke-linecap="round"/>
<line x1="117.26" y1="283.08" x2="101.38" y2="342.67" stroke="#9cc62b" stroke-width="1.08" stroke-linecap="round"/>
<line x1="110.51" y1="281.75" x2="117.26" y2="283.08" stroke="#9cc62b" stroke-width="1.08" stroke-linecap="round"/>
<line x1="171.49" y1="250.04" x2="172.02" y2="254.18" stroke="#9cc62b" stroke-width="1.08" stroke-linecap="round"/>
<circle cx="175.1" cy="170.15" r="2.15" fill="#9cc62b"/>
<circle cx="172.28" cy="204.04" r="2.15" fill="#9cc62b"/>
<circle cx="176" cy="241.33" r="2.15" fill="#9cc62b"/>
<circle cx="171.49" cy="250.04" r="2.15" fill="#9cc62b"/>
<circle cx="172.02" cy="254.18" r="2.15" fill="#9cc62b"/>
<circle cx="167.03" cy="276.17" r="2.15" fill="#9cc62b"/>
<circle cx="162.62" cy="289.98" r="2.15" fill="#9cc62b"/>
<circle cx="154.97" cy="304.75" r="2.15" fill="#9cc62b"/>
<circle cx="146.42" cy="318.24" r="2.15" fill="#9cc62b"/>
<circle cx="125.65" cy="334.07" r="2.15" fill="#9cc62b"/>
<circle cx="101.38" cy="342.67" r="2.15" fill="#9cc62b"/>
<circle cx="70.99" cy="350.48" r="2.15" fill="#9cc62b"/>
<circle cx="116.09" cy="272.72" r="2.15" fill="#9cc62b"/>
<circle cx="110.51" cy="281.75" r="2.15" fill="#9cc62b"/>
<circle cx="123.84" cy="274.42" r="2.15" fill="#9cc62b"/>
<circle cx="136.01" cy="276.01" r="2.15" fill="#9cc62b"/>
<circle cx="117.26" cy="283.08" r="2.15" fill="#9cc62b"/>
<circle cx="123.84" cy="282.44" r="2.15" fill="#9cc62b"/>
<line x1="126.92" y1="281.22" x2="134.25" y2="328.49" stroke="#f3131d" stroke-width="0.95" stroke-dasharray="2 1.1"/>
<line x1="129.79" y1="280.85" x2="142.17" y2="317.07" stroke="#f3131d" stroke-width="0.95" stroke-dasharray="2 1.1"/>
<line x1="131.7" y1="280.69" x2="156.19" y2="297.58" stroke="#f3131d" stroke-width="0.95" stroke-dasharray="2 1.1"/>
<line x1="131.7" y1="280.69" x2="154.65" y2="299.7" stroke="#f3131d" stroke-width="0.95" stroke-dasharray="2 1.1"/>
<circle cx="126.92" cy="281.22" r="2.65" fill="#f3131d"/>
<circle cx="131.7" cy="280.69" r="2.65" fill="#f3131d"/>
<circle cx="156.19" cy="297.58" r="2.65" fill="#f3131d"/>
<circle cx="154.65" cy="299.7" r="2.65" fill="#f3131d"/>
<circle cx="142.17" cy="317.07" r="2.65" fill="#f3131d"/>
<circle cx="134.25" cy="328.49" r="2.65" fill="#f3131d"/>
<circle cx="116.09" cy="272.72" r="2.2" fill="none" stroke="#f3131d" stroke-width="1.0"/>
<circle cx="110.51" cy="281.75" r="2.2" fill="none" stroke="#f3131d" stroke-width="1.0"/>
<path d="M144.52 218.18L146.62 220.28M144.52 220.28L146.62 218.18" stroke="#1f9d55" stroke-width="0.7" fill="none"/>
<path d="M132.19 258.39L134.29 260.49M132.19 260.49L134.29 258.39" stroke="#1f9d55" stroke-width="0.7" fill="none"/>
<path d="M174.95 240.28L177.05 242.38M174.95 242.38L177.05 240.28" stroke="#1f9d55" stroke-width="0.7" fill="none"/>
<path d="M170.44 248.99L172.54 251.09M170.44 251.09L172.54 248.99" stroke="#1f9d55" stroke-width="0.7" fill="none"/>
<path d="M165.92 256L168.02 258.1M165.92 258.1L168.02 256" stroke="#1f9d55" stroke-width="0.7" fill="none"/>
<path d="M154.4 277.14L156.5 279.24M154.4 279.24L156.5 277.14" stroke="#1f9d55" stroke-width="0.7" fill="none"/>
<path d="M148.77 284.95L150.87 287.05M148.77 287.05L150.87 284.95" stroke="#1f9d55" stroke-width="0.7" fill="none"/>
<path d="M143.46 293.87L145.56 295.97M143.46 295.97L145.56 293.87" stroke="#1f9d55" stroke-width="0.7" fill="none"/>
<path d="M138.89 303.33L140.99 305.43M138.89 305.43L140.99 303.33" stroke="#1f9d55" stroke-width="0.7" fill="none"/>
<path d="M122.74 293.98L124.84 296.08M122.74 296.08L124.84 293.98" stroke="#1f9d55" stroke-width="0.7" fill="none"/>
<path d="M112.7 293.87L114.8 295.97M112.7 295.97L114.8 293.87" stroke="#1f9d55" stroke-width="0.7" fill="none"/>
<path d="M93.69 306.04L95.79 308.14M93.69 308.14L95.79 306.04" stroke="#1f9d55" stroke-width="0.7" fill="none"/>
<path d="M110.42 277.41L112.52 279.51M110.42 279.51L112.52 277.41" stroke="#1f9d55" stroke-width="0.7" fill="none"/>
<text x="133.85" y="224.65" font-size="10" text-anchor="start" fill="#1c1c1c" >13</text>
<text x="167.47" y="243.08" font-size="10" text-anchor="start" fill="#1c1c1c" >3</text>
<text x="162.05" y="253.49" font-size="10" text-anchor="start" fill="#1c1c1c" >4</text>
<text x="157.8" y="259.6" font-size="10" text-anchor="start" fill="#1c1c1c" >5</text>
<text x="137.73" y="262.89" font-size="10" text-anchor="start" fill="#1c1c1c" >1</text>
<text x="148.88" y="280.53" font-size="10" text-anchor="start" fill="#1c1c1c" >6</text>
<text x="142.35" y="288.23" font-size="10" text-anchor="start" fill="#1c1c1c" >7</text>
<text x="137.3" y="300.23" font-size="10" text-anchor="start" fill="#1c1c1c" >8</text>
<text x="132.68" y="307.94" font-size="10" text-anchor="start" fill="#1c1c1c" >9</text>
<text x="98.42" y="281.01" font-size="10" text-anchor="start" fill="#1c1c1c" >12</text>
<text x="107.18" y="303.85" font-size="10" text-anchor="start" fill="#1c1c1c" >2</text>
<text x="115.68" y="303.85" font-size="10" text-anchor="start" fill="#1c1c1c" >10</text>
<text x="83.49" y="309.53" font-size="10" text-anchor="start" fill="#1c1c1c" >11</text>
<text x="78" y="265.28" font-size="12.6" text-anchor="start" fill="#111" >C36</text>
<line x1="117.58" y1="278.83" x2="101.8" y2="266.24" stroke="#1a1a1a" stroke-width="0.9" />
<line x1="101.8" y1="266.24" x2="103.2" y2="271.56" stroke="#1a1a1a" stroke-width="0.9" stroke-linecap="round"/>
<line x1="101.8" y1="266.24" x2="107.3" y2="266.42" stroke="#1a1a1a" stroke-width="0.9" stroke-linecap="round"/>
<text x="195.12" y="282.49" font-size="12.4" text-anchor="start" fill="#111" >bcc</text>
<text transform="translate(115.6 205.5) rotate(-60)" font-size="11.8" text-anchor="middle" letter-spacing="0.62" fill="#111">Ti (wt.%)</text>
<text x="74.53" y="325.74" font-size="12.7" text-anchor="end" fill="#111" >20</text>
<text x="95.46" y="289.49" font-size="12.7" text-anchor="end" fill="#111" >30</text>
<text x="116.4" y="253.24" font-size="12.7" text-anchor="end" fill="#111" >40</text>
<text x="137.33" y="216.99" font-size="12.7" text-anchor="end" fill="#111" >50</text>
<text x="158.26" y="180.74" font-size="12.7" text-anchor="end" fill="#111" >60</text>
<text x="179.19" y="144.49" font-size="12.7" text-anchor="end" fill="#111" >70</text>
<text x="200.12" y="108.24" font-size="12.7" text-anchor="end" fill="#111" >80</text>
<text x="221.05" y="71.99" font-size="12.7" text-anchor="end" fill="#111" >90</text></g></g>
<path d="M252.8 470.2L460.6 831.6L44.5 831.6" fill="none" stroke="#3f7bd8" stroke-width="0.9" stroke-dasharray="1.6 1.3"/>
</svg></body></html>
